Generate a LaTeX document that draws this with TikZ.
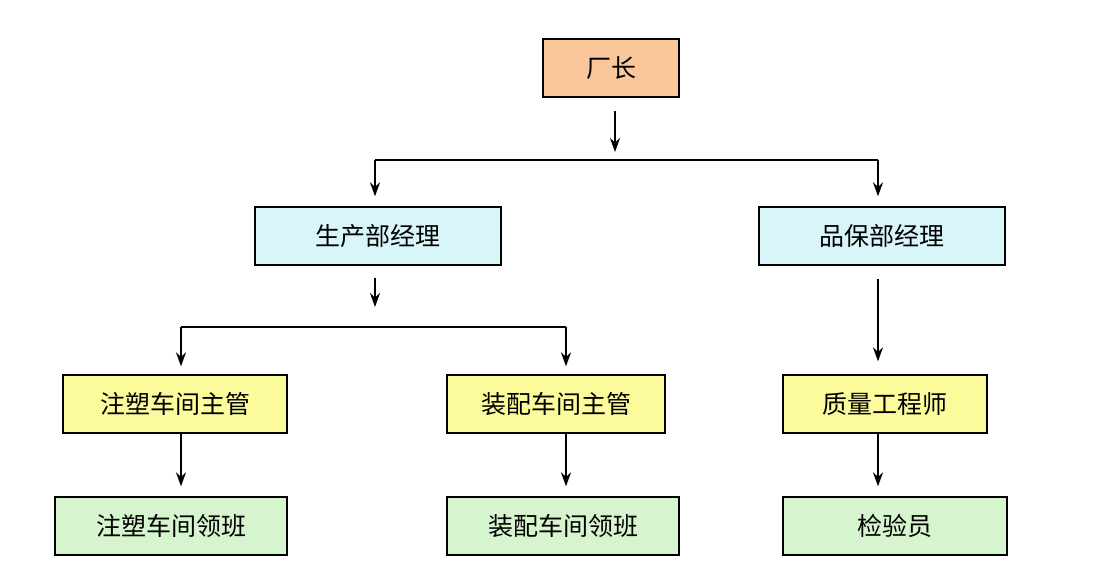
\documentclass[tikz,border=0pt]{standalone}
\usepackage{fontspec}
\setmainfont{Noto Sans CJK SC}
\usetikzlibrary{arrows.meta}
\definecolor{bossfill}{HTML}{FAC79B}
\definecolor{mgrfill}{HTML}{D8F6FA}
\definecolor{supfill}{HTML}{FBFB9C}
\definecolor{leadfill}{HTML}{D6F4CD}
\begin{document}
\begin{tikzpicture}[x=1pt, y=-1pt,
    box/.style={draw, line width=1.3pt, minimum height=58pt, inner sep=0pt, font=\fontsize{25}{28}\selectfont},
    arrow/.style={-{Stealth[length=14pt,width=10pt]}, line width=1.8pt},
    bus/.style={line width=1.8pt}
]
\useasboundingbox (0,0) rectangle (1108,586);
% Boxes
\node[box, fill=bossfill, minimum width=136pt] (boss) at (611,68) {厂长};
\node[box, fill=mgrfill, minimum width=246pt] (prod) at (378,236) {生产部经理};
\node[box, fill=mgrfill, minimum width=246pt] (qa) at (882,236) {品保部经理};
\node[box, fill=supfill, minimum width=224pt] (injsup) at (175,404) {注塑车间主管};
\node[box, fill=supfill, minimum width=218pt] (asmsup) at (556,404) {装配车间主管};
\node[box, fill=supfill, minimum width=204pt] (qeng) at (885,404) {质量工程师};
\node[box, fill=leadfill, minimum width=232pt] (injlead) at (171,526) {注塑车间领班};
\node[box, fill=leadfill, minimum width=232pt] (asmlead) at (563,526) {装配车间领班};
\node[box, fill=leadfill, minimum width=224pt] (insp) at (895,526) {检验员};

% Arrows
\draw[arrow] ([yshift=-13pt]boss.south -| 615,0) -- (615,152);
\draw[bus] (375,160) -- (878,160);
\draw[arrow] (375,160) -- ([yshift=10pt]prod.north -| 375,0);
\draw[arrow] (878,160) -- ([yshift=10pt]qa.north -| 878,0);
\draw[arrow] ([yshift=-12pt]prod.south -| 375,0) -- (375,307);
\draw[bus] (181,327) -- (566,327);
\draw[arrow] (181,327) -- ([yshift=8pt]injsup.north -| 181,0);
\draw[arrow] (566,327) -- ([yshift=8pt]asmsup.north -| 566,0);
\draw[arrow] ([yshift=-13pt]qa.south -| 878,0) -- ([yshift=13pt]qeng.north -| 878,0);
\draw[arrow] (injsup.south -| 181,0) -- ([yshift=10pt]injlead.north -| 181,0);
\draw[arrow] (asmsup.south -| 566,0) -- ([yshift=10pt]asmlead.north -| 566,0);
\draw[arrow] (qeng.south -| 878,0) -- ([yshift=10pt]insp.north -| 878,0);
\end{tikzpicture}
\end{document}
